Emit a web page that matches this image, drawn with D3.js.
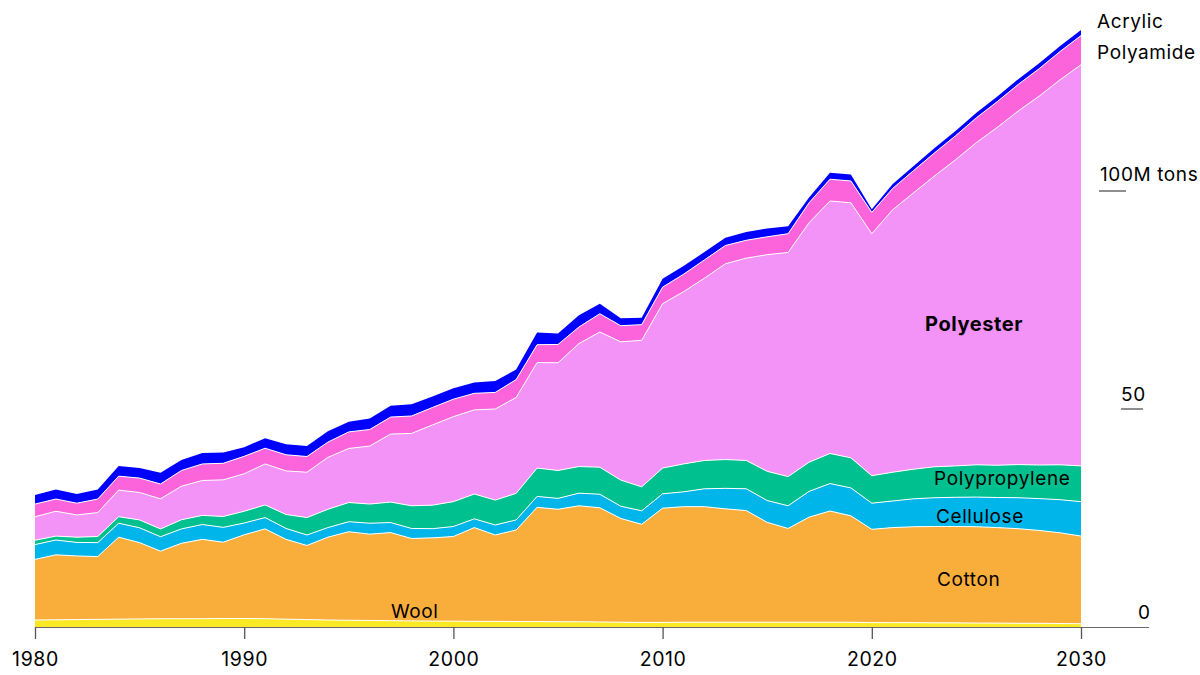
<!DOCTYPE html>
<html>
<head>
<meta charset="utf-8">
<script src="https://cdn.jsdelivr.net/npm/d3@7"></script>
<style>
  html, body { margin: 0; padding: 0; background: #fff; }
  svg { display: block; font-family: Inter, "Noto Sans", sans-serif; }
  text { letter-spacing: 0.6px; }
</style>
</head>
<body>
<svg id="chart" width="1200" height="675"></svg>
<script>
// ---- data (million tons) ----
const years = d3.range(1980, 2031);
const layerNames = ["Wool", "Cotton", "Cellulose", "Polypropylene", "Polyester", "Polyamide", "Acrylic"];
const layerColors = ["#FAE824", "#F9AE3B", "#00B5EA", "#00C08F", "#F392F7", "#FB64DA", "#0000FF"];

const wool = [1.6,1.65,1.7,1.75,1.8,1.85,1.9,1.9,1.9,1.95, 1.95,1.9,1.8,1.7,1.6,1.55,1.5,1.45,1.4,1.35, 1.35,1.3,1.3,1.25,1.25,1.2,1.2,1.15,1.1,1.05, 1.05,1.1,1.1,1.1,1.1,1.1,1.1,1.1,1.1,1.1, 1.0,1.0,1.0,0.95,0.95,0.9,0.9,0.85,0.85,0.8,0.75];
const cotton = [13.9,14.9,14.6,14.4,18.8,17.5,15.5,17.3,18.2,17.5, 19.2,20.6,18.3,17.0,19.0,20.3,19.8,20.2,18.9,19.1, 19.4,21.5,19.8,21.0,26.2,25.8,26.6,26.2,23.8,22.5, 26.2,26.5,26.5,26.0,25.6,22.9,21.5,24.1,25.5,24.4, 21.4,21.8,22.0,22.1,22.1,22.1,21.9,21.7,21.3,20.8,20.1];
const cellulose = [3.4,3.4,3.1,3.2,3.2,3.4,3.3,3.3,3.4,3.4, 2.7,2.6,2.5,2.4,2.2,2.3,2.5,2.3,2.3,2.1, 2.3,2.0,2.3,2.3,2.5,2.5,2.9,3.1,2.8,3.1, 3.3,3.4,4.1,4.7,5.0,5.0,5.2,5.9,6.3,6.4, 6.0,6.1,6.4,6.6,6.7,6.8,6.9,7.1,7.3,7.6,7.9];
const polypropylene = [1.0,0.9,1.2,1.4,1.5,1.8,1.8,2.1,2.1,2.5, 2.7,2.9,3.2,4.0,4.2,4.4,4.4,4.7,5.2,5.4, 5.7,5.7,5.7,6.1,6.5,6.4,6.1,6.2,6.0,5.5, 5.9,6.4,6.5,6.6,6.5,6.7,6.7,6.7,6.9,6.9, 6.3,6.6,6.8,7.1,7.2,7.4,7.4,7.6,7.7,8.0,8.2];
const polyester = [5.4,5.7,5.1,5.5,6.1,6.3,6.9,7.7,8.0,8.4, 8.6,9.4,10.0,10.4,11.9,12.4,13.3,15.6,16.6,18.4, 19.5,19.3,20.9,22.0,24.2,24.7,28.2,31.0,31.7,33.6, 37.7,39.5,41.8,44.9,46.4,49.7,51.4,54.9,57.9,58.5, 55.5,60.2,63.4,66.7,70.2,73.9,77.5,81.1,84.6,88.3,92.0];
const polyamide = [2.9,2.8,2.7,3.1,3.2,3.3,3.4,3.6,3.8,3.8, 4.0,3.6,3.7,3.6,3.5,3.8,3.8,3.9,4.0,4.0, 4.0,3.8,3.8,4.1,4.1,4.2,3.8,4.2,3.7,3.6, 3.8,4.0,4.2,4.2,4.1,4.1,4.3,4.6,5.0,5.0, 4.9,4.9,5.1,5.3,5.5,5.7,5.9,6.1,6.3,6.5,6.7];
const acrylic = [2.1,2.2,2.1,2.2,2.3,2.3,2.6,2.4,2.5,2.5, 2.1,2.3,2.4,2.4,2.5,2.3,2.5,2.6,2.7,2.5, 2.5,2.5,2.6,2.3,2.8,2.5,2.7,2.3,1.7,1.6, 1.9,1.9,1.8,1.8,1.9,1.9,1.7,1.2,1.5,1.5, 0.7,1.0,1.05,1.1,1.1,1.15,1.2,1.2,1.25,1.25,1.3];

const xTicks = [1980, 1990, 2000, 2010, 2020, 2030];
const yTicks = [0, 50, 100];
const yTickLabels = ["0", "50", "100M tons"];

// ---- build table ----
const series = [wool, cotton, cellulose, polypropylene, polyester, polyamide, acrylic];
const table = years.map((yr, i) => {
  const row = { year: yr };
  layerNames.forEach((n, k) => row[n] = series[k][i]);
  return row;
});

const svg = d3.select("#chart");
const x = d3.scaleLinear().domain([1980, 2030]).range([35, 1081]);
const y = d3.scaleLinear().domain([0, 100]).range([627, 191]);

const stack = d3.stack().keys(layerNames);
const stacked = stack(table);

const area = d3.area()
  .x(d => x(d.data.year))
  .y0(d => y(d[0]))
  .y1(d => y(d[1]));

svg.append("g").selectAll("path")
  .data(stacked)
  .join("path")
  .attr("d", area)
  .attr("fill", (d, i) => layerColors[i]);

// white separators on layer tops (except the topmost)
const topLine = d3.line().x(d => x(d.data.year)).y(d => y(d[1]));
svg.append("g").selectAll("path")
  .data(stacked.slice(0, stacked.length - 1))
  .join("path")
  .attr("d", topLine)
  .attr("fill", "none")
  .attr("stroke", "#fff")
  .attr("stroke-width", 1);

// ---- x axis ----
svg.append("line")
  .attr("x1", x(1980)).attr("x2", 1149)
  .attr("y1", y(0) + 0.5).attr("y2", y(0) + 0.5)
  .attr("stroke", "#6a6a6a").attr("stroke-width", 1.2);

const xAxis = d3.axisBottom(x).tickValues(xTicks).tickSize(12).tickPadding(8).tickFormat(d3.format("d"));
const gx = svg.append("g").attr("transform", `translate(0,${y(0)})`).call(xAxis);
gx.select(".domain").remove();
gx.selectAll(".tick line").attr("stroke", "#555").attr("stroke-width", 1.3);
gx.selectAll(".tick text")
  .attr("fill", "#000")
  .attr("font-size", 19.5)
  .attr("font-family", "Inter, 'Noto Sans', sans-serif")
  .attr("dy", "0.95em");

// ---- y labels (right) ----
const yLabelX = [1138, 1121, 1100];
const yUnderline = [null, [1121, 1143], [1099, 1126]];
yTicks.forEach((t, i) => {
  svg.append("text")
    .attr("x", yLabelX[i])
    .attr("y", y(t) - (i === 2 ? 10 : 8.5))
    .attr("font-size", 19)
    .attr("fill", "#000")
    .text(yTickLabels[i]);
  if (yUnderline[i]) {
    svg.append("line")
      .attr("x1", yUnderline[i][0]).attr("x2", yUnderline[i][1])
      .attr("y1", y(t)).attr("y2", y(t))
      .attr("stroke", "#444").attr("stroke-width", 1.2);
  }
});

// ---- series labels ----
const labels = [
  { t: "Acrylic", x: 1097, y: 28, w: 400, s: 19 },
  { t: "Polyamide", x: 1097, y: 59, w: 400, s: 19 },
  { t: "Polyester", x: 925, y: 331, w: 700, s: 20 },
  { t: "Polypropylene", x: 934, y: 485, w: 400, s: 19 },
  { t: "Cellulose", x: 936, y: 523, w: 400, s: 19 },
  { t: "Cotton", x: 937, y: 586, w: 400, s: 19 },
  { t: "Wool", x: 391, y: 618, w: 400, s: 19 }
];
svg.append("g").selectAll("text")
  .data(labels)
  .join("text")
  .attr("x", d => d.x)
  .attr("y", d => d.y)
  .attr("font-size", d => d.s)
  .attr("font-weight", d => d.w)
  .attr("fill", "#000")
  .text(d => d.t);
</script>
</body>
</html>
